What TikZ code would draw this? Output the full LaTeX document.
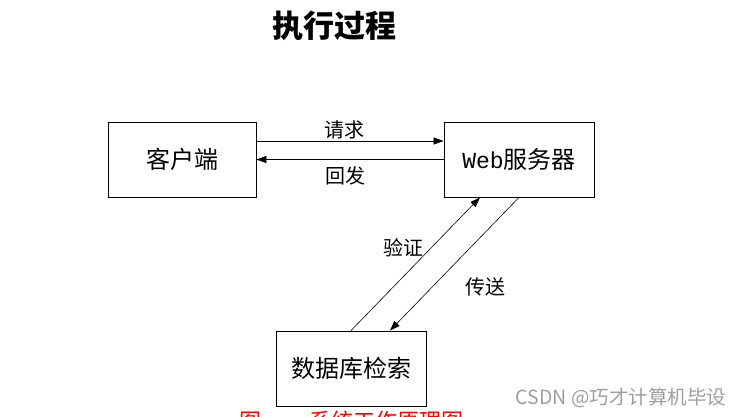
\documentclass[tikz,border=0pt]{standalone}
\usepackage{fontspec}
\setmainfont{Noto Sans CJK SC}
\newfontfamily\webmono{Liberation Mono}
\usetikzlibrary{arrows.meta}
\tikzset{
  stagebox/.style={draw=black, line width=0.8pt, minimum width=150pt, minimum height=75pt, inner sep=0pt, font=\fontsize{24}{24}\selectfont},
  flow/.style={line width=0.6pt, -{Triangle[length=10pt,width=7pt]}},
  flowlabel/.style={inner sep=0pt, font=\fontsize{20}{20}\selectfont}
}
\begin{document}
\begin{tikzpicture}[x=1pt, y=-1pt]
  \useasboundingbox (0,0) rectangle (743,416);
  % title
  \node[font=\fontsize{31}{31}\selectfont\bfseries] (title) at (334,26) {执行过程};
  % boxes
  \node[stagebox, minimum width=148pt] (client) at (182,159.5) {客户端};
  \node[stagebox] (web) at (519,159.5) {{\webmono\fontsize{23}{23}\selectfont Web}服务器};
  \node[stagebox] (db) at (351,368.5) {数据库检索};
  % client <-> web
  \draw[flow] ([yshift=18.5pt]client.east) -- ([yshift=18.5pt]web.west);
  \draw[flow] (web.west) -- (client.east);
  \node[flowlabel] (req) at (344,130) {请求};
  \node[flowlabel] (back) at (345,176) {回发};
  % web <-> db
  \draw[flow] (db.north) -- ([xshift=-39pt]web.south);
  \draw[flow] (web.south) -- ([xshift=39pt]db.north);
  \node[flowlabel] (check) at (403,248) {验证};
  \node[flowlabel] (send) at (485,287) {传送};
  % caption, cut off at the bottom edge
  \node[anchor=north west, inner sep=0pt, text=red, font=\fontsize{22}{22}\selectfont] (cap) at (239,411) {图\hspace{48pt}系统工作原理图};
  % watermark
  \node[text=black!38, font=\fontsize{19.5}{19.5}\selectfont] (mark) at (621,398) {CSDN @巧才计算机毕设};
\end{tikzpicture}
\end{document}
